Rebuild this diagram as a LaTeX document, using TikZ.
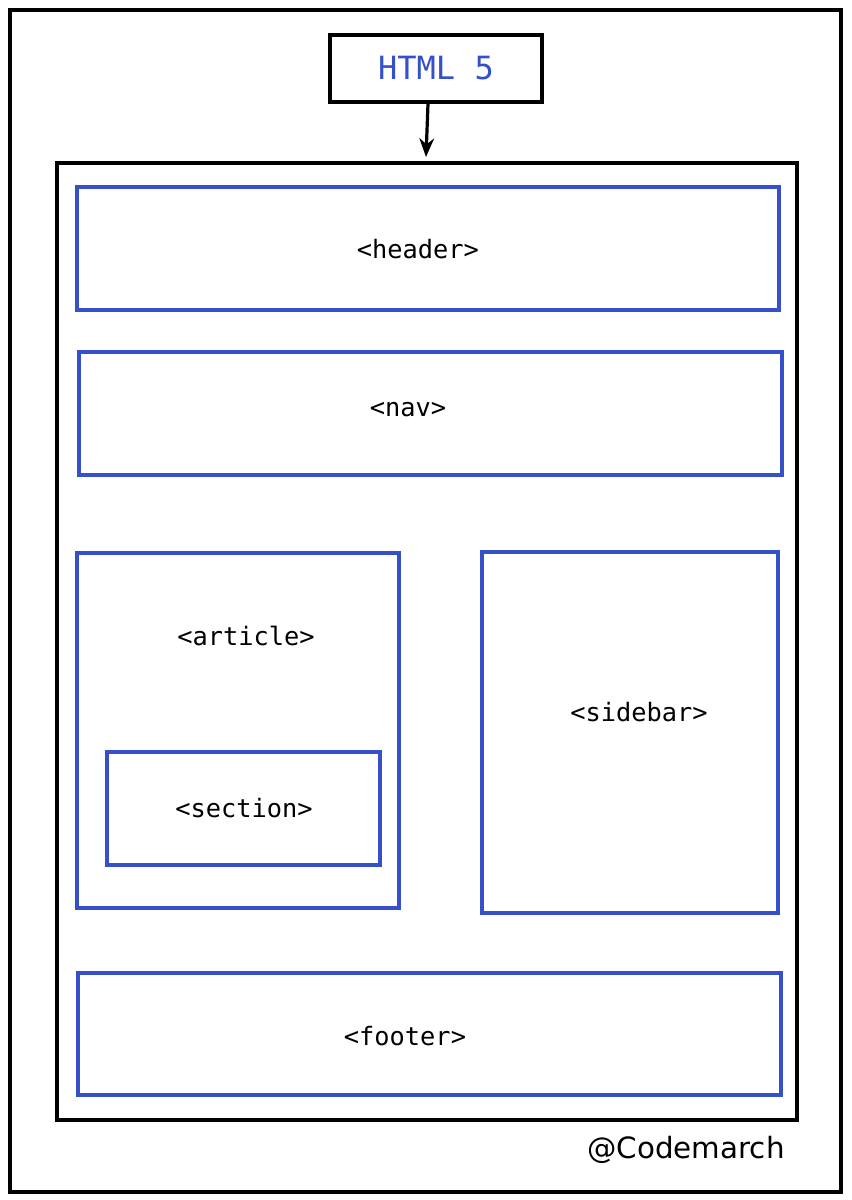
\documentclass[tikz,border=0pt]{standalone}
\usetikzlibrary{arrows.meta}
\usepackage{fontspec}
\setmonofont{DejaVu Sans Mono}
\newfontfamily\handfont{DejaVu Sans}
\definecolor{bl}{HTML}{3550C8}
\begin{document}
\begin{tikzpicture}[x=0.75pt,y=-0.75pt,
  frame/.style={draw=black,line width=2.8pt},
  blbox/.style={draw=bl,line width=2.8pt},
  lbl/.style={font=\ttfamily\fontsize{19}{22}\selectfont}]
\useasboundingbox (0,0) rectangle (851,1200);
\draw[frame] (10,10) rectangle (841,1192);
\node[frame,fill=white,minimum width=212*0.75pt,minimum height=67*0.75pt,inner sep=0pt,
  text=bl,font=\ttfamily\fontsize{24}{28}\selectfont] (html) at (436,68.5) {HTML 5};
\draw[frame] (57,163) rectangle (797,1120);
\coordinate (tgt) at (426,157);
\draw[line width=2.4pt,-{Stealth[length=14pt,width=11pt]}] (html.south) ++(-8,0) coordinate (src) -- (tgt);
\draw[blbox] (77,187) rectangle (779,310); \node[lbl] (header) at (418,249) {<header>};
\draw[blbox] (79,352) rectangle (782,475); \node[lbl] (nav) at (408,410) {<nav>};
\draw[blbox] (77,553) rectangle (399,908); \node[lbl] (article) at (246,636) {<article>};
\draw[blbox] (107,752) rectangle (380,865); \node[lbl] (section) at (244,808) {<section>};
\draw[blbox] (482,552) rectangle (778,913); \node[lbl] (sidebar) at (639,712) {<sidebar>};
\draw[blbox] (78,973) rectangle (781,1095); \node[lbl] (footer) at (405,1036) {<footer>};
\node[font=\handfont\fontsize{22}{26}\selectfont] (cm) at (686,1150) {@Codemarch};
\end{tikzpicture}
\end{document}
